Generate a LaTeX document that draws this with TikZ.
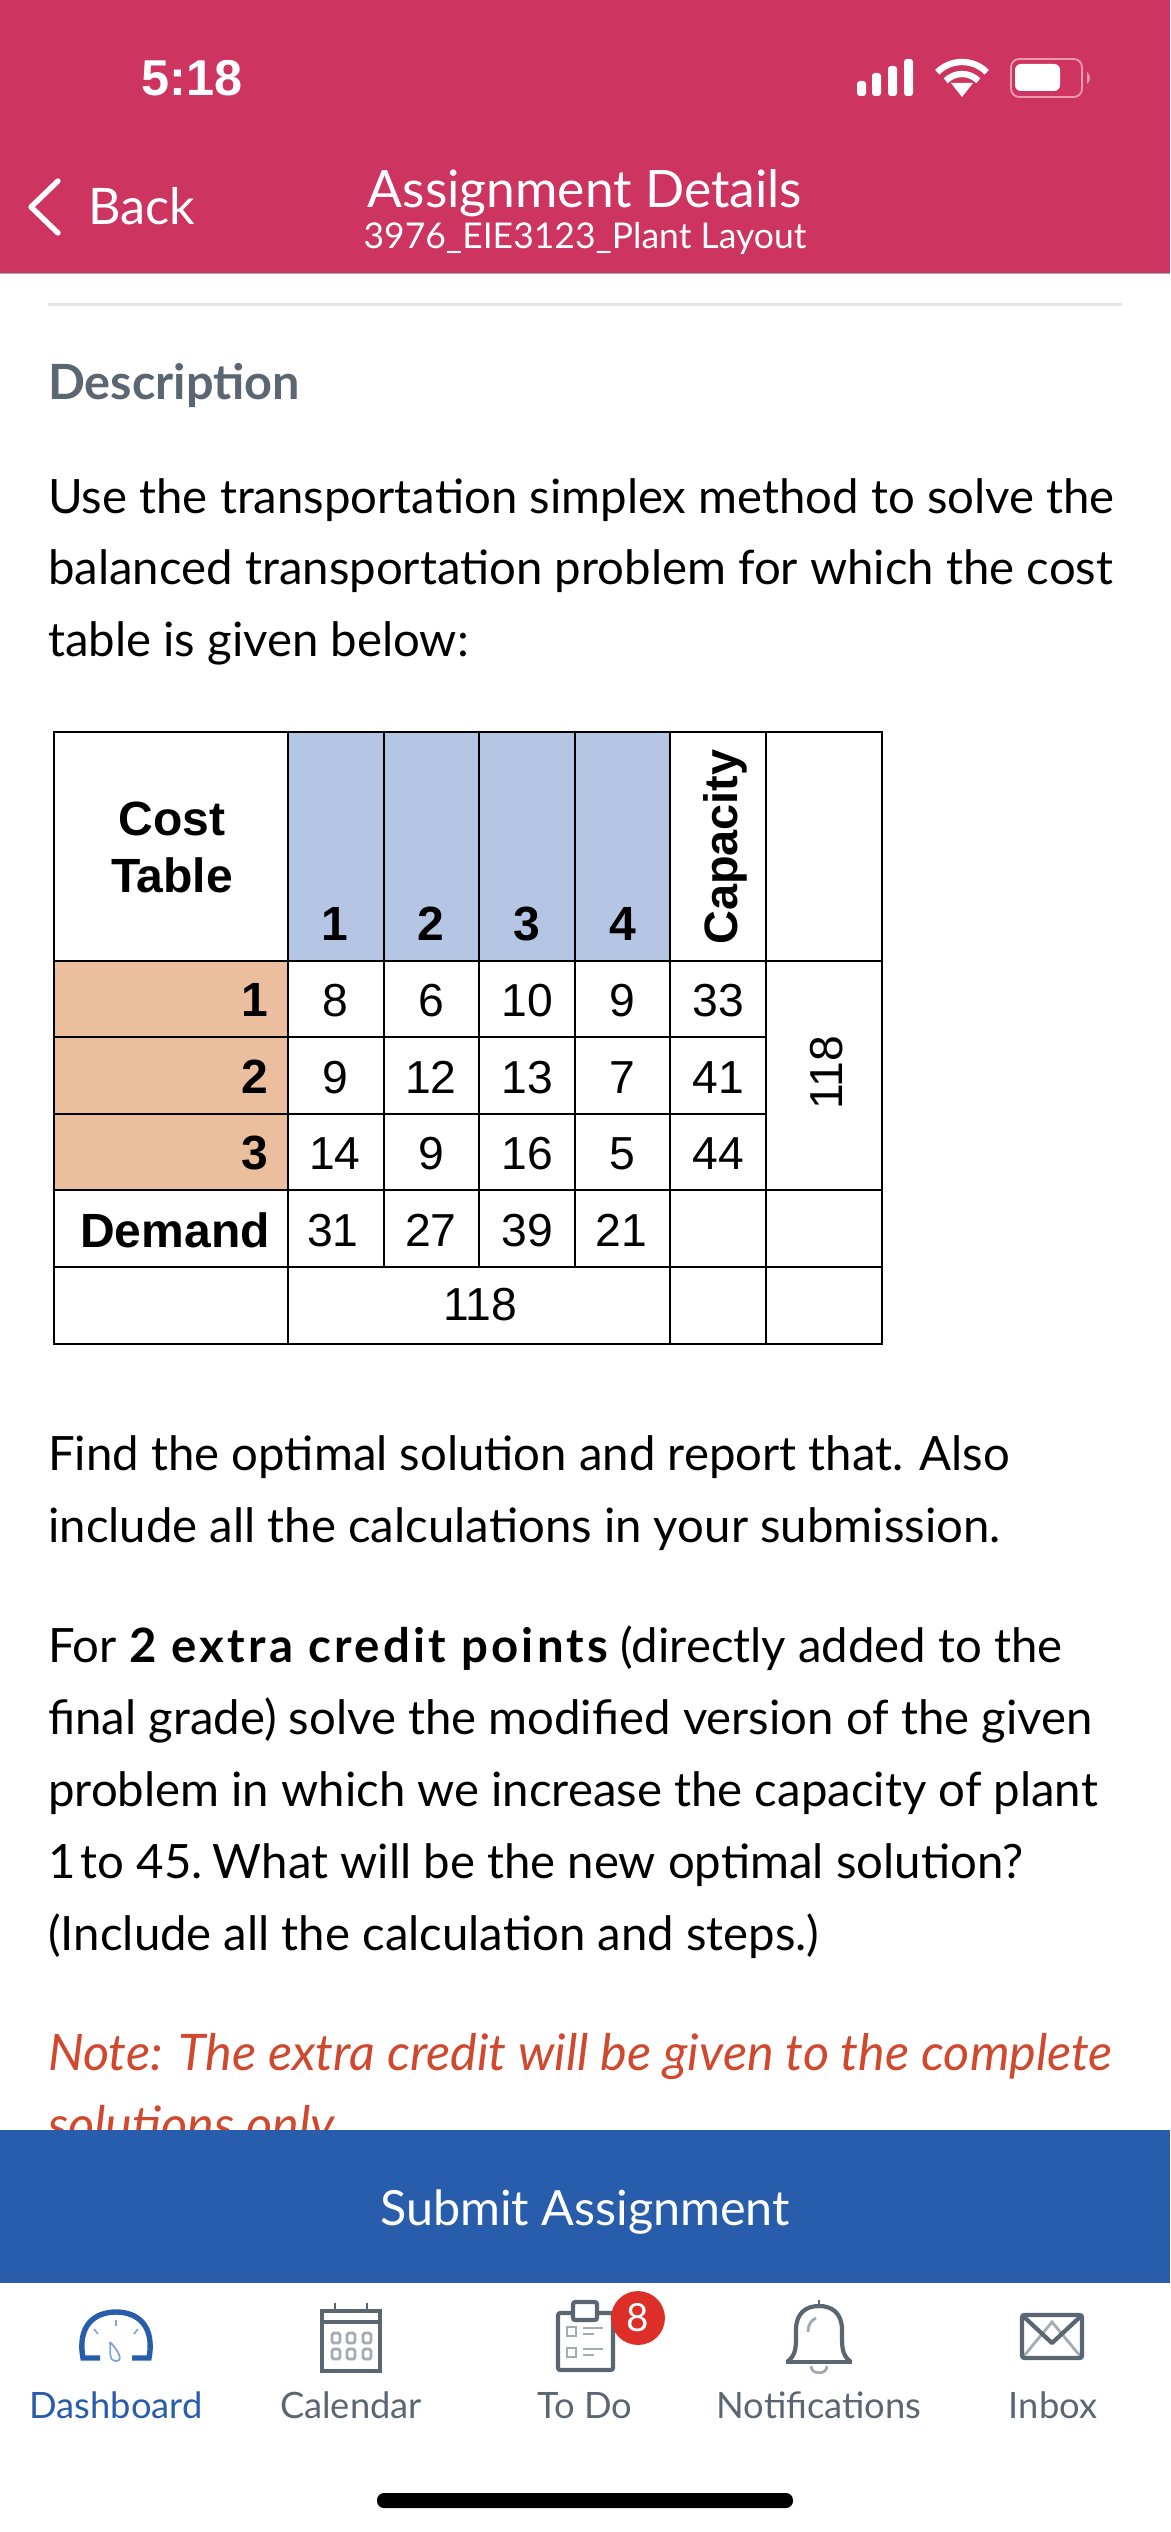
\documentclass[tikz,border=0pt]{standalone}
\usepackage{fontspec}
\setmainfont{Lato}
\newfontfamily\arialfont{Liberation Sans}
\definecolor{headerred}{HTML}{CE3460}
\definecolor{slategrey}{HTML}{5A6672}
\definecolor{lightgrey}{HTML}{A4ABB2}
\definecolor{notered}{HTML}{D0492F}
\definecolor{submitblue}{HTML}{285DAB}
\definecolor{paleblue}{HTML}{7FA6D8}
\definecolor{colblue}{HTML}{B4C6E4}
\definecolor{roworange}{HTML}{EBBF9E}
\definecolor{badgered}{HTML}{DE2E28}
\tikzset{
  bodytext/.style={anchor=base west, inner sep=0pt, text=black, font=\fontsize{40.4}{46}\selectfont},
  notetext/.style={anchor=base west, inner sep=0pt, text=notered, font=\itshape\fontsize{43}{48}\selectfont},
  tabtext/.style={anchor=base, inner sep=0pt, text=slategrey, font=\fontsize{31}{36}\selectfont},
  cell/.style={anchor=base, inner sep=0pt, font=\arialfont\fontsize{39.5}{44}\selectfont},
  boldcell/.style={anchor=base, inner sep=0pt, font=\arialfont\bfseries\fontsize{41}{46}\selectfont},
  gridline/.style={line width=2.3pt, black},
  iconline/.style={line width=3.6pt, slategrey},
  iconthin/.style={line width=2.4pt, lightgrey}
}
\begin{document}
\begin{tikzpicture}[x=0.03cm, y=-0.03cm]
      \useasboundingbox (0,0) rectangle (1170,2532);
      \fill[white] (0,0) rectangle (1170,2532);
      % header
      \fill[headerred] (0,0) rectangle (1170,273);
      \draw[line width=1pt, lightgrey] (0,273.5) -- (1170,273.5);
      \node[anchor=base west, inner sep=0pt, text=white, font=\arialfont\bfseries\fontsize{43}{48}\selectfont] (clock) at (141,96) {5:18};
      %
      \fill[white, rounded corners=2.5pt] (857,81) rectangle (866,96);
      \fill[white, rounded corners=2.5pt] (872,73) rectangle (881,96);
      \fill[white, rounded corners=2.5pt] (888,66) rectangle (897,96);
      \fill[white, rounded corners=2.5pt] (904,59) rectangle (913,96);
      %
      \fill[white] (962,97) -- (951,83) -- (973,83) -- cycle;
      \draw[white, line width=5.4pt] (962,97) ++(-135:23) arc[start angle=-135, end angle=-45, radius=23];
      \draw[white, line width=5.4pt] (962,97) ++(-135:35) arc[start angle=-135, end angle=-45, radius=35];
      %
      \draw[white!50!headerred, line width=1.6pt, rounded corners=7pt] (1011,59) rectangle (1082,97);
      \fill[white, rounded corners=5pt] (1015,64) rectangle (1060,91);
      \fill[white!50!headerred] (1087,72) .. controls (1091,74) and (1091,82) .. (1087,84) -- cycle;
      %
      \draw[white, line width=4.6pt, line cap=round, line join=round] (58,181) -- (31,207) -- (58,233);
      \node[anchor=base west, inner sep=0pt, text=white, font=\fontsize{43}{48}\selectfont] (backlabel) at (88,225) {Back};
      \node[anchor=base, inner sep=0pt, text=white, font=\fontsize{44}{50}\selectfont] (title) at (585,208) {Assignment Details};
      \node[anchor=base, inner sep=0pt, text=white, font=\fontsize{30.3}{36}\selectfont] (subtitle) at (585,249) {3976\_EIE3123\_Plant Layout};
      %
      \draw[line width=2.2pt, black!10] (48,304.5) -- (1122,304.5);
      \node[anchor=base west, inner sep=0pt, text=slategrey, font=\bfseries\fontsize{41.5}{46}\selectfont] (description) at (48,400) {Description};
      % text above the table
      \node[bodytext] (lineA) at (48,513) {Use the transportation simplex method to solve the};
      \node[bodytext] (lineB) at (48,584) {balanced transportation problem for which the cost};
      \node[bodytext] (lineC) at (48,656) {table is given below:};
      % table fills
      \fill[colblue] (288,732) rectangle (670,961);
      \fill[roworange] (54,961) rectangle (288,1190);
      % table lines
      \draw[gridline] (54,732) rectangle (882,1344);
      \draw[gridline] (54,961) -- (882,961);
      \draw[gridline] (54,1037) -- (766,1037);
      \draw[gridline] (54,1114) -- (766,1114);
      \draw[gridline] (54,1190) -- (882,1190);
      \draw[gridline] (54,1267) -- (882,1267);
      \draw[gridline] (288,732) -- (288,1344);
      \draw[gridline] (384,732) -- (384,1267);
      \draw[gridline] (479,732) -- (479,1267);
      \draw[gridline] (575,732) -- (575,1267);
      \draw[gridline] (670,732) -- (670,1344);
      \draw[gridline] (766,732) -- (766,1344);
      % table texts
      \node[boldcell] (costlabel) at (172,835) {Cost};
      \node[boldcell] (tablelabel) at (172,892) {Table};
      \node[boldcell] (colA) at (335,940) {1};
      \node[boldcell] (colB) at (431,940) {2};
      \node[boldcell] (colC) at (527,940) {3};
      \node[boldcell] (colD) at (623,940) {4};
      \node[boldcell, anchor=base west, rotate=90, font=\arialfont\bfseries\fontsize{40}{46}\selectfont] (capacity) at (737,945) {Capacity};
      %
      \node[boldcell, anchor=base east] (rowA) at (268,1016) {1};
      \node[boldcell, anchor=base east] (rowB) at (268,1093) {2};
      \node[boldcell, anchor=base east] (rowC) at (268,1169) {3};
      \node[boldcell, anchor=base east] (demand) at (270,1247) {Demand};
      %
      \node[cell] (cAA) at (335,1016) {8};
      \node[cell] (cAB) at (431,1016) {6};
      \node[cell] (cAC) at (527,1016) {10};
      \node[cell] (cAD) at (622,1016) {9};
      \node[cell] (capA) at (718,1016) {33};
      %
      \node[cell] (cBA) at (335,1093) {9};
      \node[cell] (cBB) at (431,1093) {12};
      \node[cell] (cBC) at (527,1093) {13};
      \node[cell] (cBD) at (622,1093) {7};
      \node[cell] (capB) at (718,1093) {41};
      %
      \node[cell] (cCA) at (335,1169) {14};
      \node[cell] (cCB) at (431,1169) {9};
      \node[cell] (cCC) at (527,1169) {16};
      \node[cell] (cCD) at (622,1169) {5};
      \node[cell] (capC) at (718,1169) {44};
      %
      \node[cell] (demA) at (333,1246) {31};
      \node[cell] (demB) at (431,1246) {27};
      \node[cell] (demC) at (527,1246) {39};
      \node[cell] (demD) at (621,1246) {21};
      \node[cell] (demtotal) at (480,1320) {118};
      \node[cell, rotate=90] (captotal) at (842,1073) {118};
      % text below the table
      \node[bodytext] (lineD) at (48,1470) {Find the optimal solution and report that. Also};
      \node[bodytext] (lineE) at (48,1542) {include all the calculations in your submission.};
      %
      \node[bodytext] (lineF) at (48,1662) {For {\bfseries\addfontfeature{LetterSpace=7}2 extra credit points} (directly added to the};
      \node[bodytext] (lineG) at (48,1734) {final grade) solve the modified version of the given};
      \node[bodytext] (lineH) at (48,1806) {problem in which we increase the capacity of plant};
      \node[bodytext] (lineI) at (48,1878) {1\kern-6pt{} to 45.\kern-5pt{} What will be the new optimal solution?};
      \node[bodytext] (lineJ) at (48,1950) {(Include all the calculation and steps.)};
      %
      \node[notetext] (noteA) at (48,2070) {Note: The extra credit will be given to the complete};
      \node[notetext] (noteB) at (48,2142) {solutions only.};
      % submit bar
      \fill[submitblue] (0,2130) rectangle (1170,2283);
      \fill[white] (0,2283) rectangle (1170,2532);
      \node[anchor=base, inner sep=0pt, text=white, font=\fontsize{41.4}{46}\selectfont] (submit) at (585,2225) {Submit Assignment};
      % dashboard icon
      \draw[submitblue, line width=4.6pt] (100,2358) -- (83,2358) .. controls (77,2325) and (95,2312) .. (116,2312) .. controls (137,2312) and (155,2325) .. (149,2358) -- (132,2358);
      \draw[paleblue, line width=1.5pt] (110,2342) .. controls (111,2350) and (108,2361) .. (116,2361) .. controls (124,2361) and (118,2350) .. (110,2342);
      \draw[paleblue, line width=1.4pt] (116,2320) -- (116,2326);
      \draw[paleblue, line width=1.4pt] (94,2329) -- (98,2334);
      \draw[paleblue, line width=1.4pt] (138,2329) -- (134,2334);
      % calendar icon
      \draw[iconline] (322,2371) -- (322,2311) -- (380,2311) -- (380,2371) -- cycle;
      \draw[iconline] (322,2322) -- (380,2322);
      \draw[iconline, line width=2.2pt] (335,2303) -- (335,2311);
      \draw[iconline, line width=2.2pt] (367,2303) -- (367,2311);
      \draw[iconthin, rounded corners=1.5pt] (332,2333) rectangle (340,2343);
      \draw[iconthin, rounded corners=1.5pt] (347,2333) rectangle (355,2343);
      \draw[iconthin, rounded corners=1.5pt] (363,2333) rectangle (371,2343);
      \draw[iconthin, rounded corners=1.5pt] (332,2349) rectangle (340,2359);
      \draw[iconthin, rounded corners=1.5pt] (347,2349) rectangle (355,2359);
      \draw[iconthin, rounded corners=1.5pt] (363,2349) rectangle (371,2359);
      % to do icon
      \draw[iconline, rounded corners=2pt] (558,2370) -- (558,2313) -- (613,2313) -- (613,2370) -- cycle;
      \draw[iconline, fill=white, rounded corners=2pt] (573,2302) rectangle (597,2320);
      \draw[iconthin] (567,2327) rectangle (576,2336);
      \draw[iconthin] (567,2348) rectangle (576,2357);
      \draw[iconthin] (583,2328) -- (603,2328);
      \draw[iconthin] (583,2334) -- (594,2334);
      \draw[iconthin] (583,2349) -- (603,2349);
      \draw[iconthin] (583,2355) -- (594,2355);
      \node[circle, fill=badgered, text=white, inner sep=0pt, minimum size=46pt, font=\fontsize{33}{36}\selectfont] (badge) at (638,2318) {8};
      % bell icon
      \draw[iconline] (787,2362) .. controls (797,2355) and (796,2345) .. (796,2330) .. controls (796,2313) and (806,2306) .. (819,2306) .. controls (832,2306) and (842,2313) .. (842,2330) .. controls (842,2345) and (841,2355) .. (851,2362);
      \draw[iconline, line width=4pt] (786,2362) -- (852,2362);
      \draw[iconline, line width=1.5pt] (819,2300) -- (819,2306);
      \draw[iconthin] (811,2366) .. controls (811,2375) and (827,2375) .. (827,2366);
      \draw[iconthin] (808,2332) .. controls (808,2325) and (811,2320) .. (816,2318);
      % inbox icon
      \draw[iconthin] (1023,2357) -- (1052,2322) -- (1081,2357);
      \draw[iconline, rounded corners=2pt] (1022,2315) rectangle (1082,2358);
      \draw[iconline, line join=round] (1023,2316) -- (1052,2343) -- (1081,2316);
      % tab labels
      \node[tabtext, text=submitblue] (tabA) at (116,2418) {Dashboard};
      \node[tabtext] (tabB) at (351,2418) {Calendar};
      \node[tabtext] (tabC) at (585,2418) {To Do};
      \node[tabtext] (tabD) at (819,2418) {Notifications};
      \node[tabtext] (tabE) at (1053,2418) {Inbox};
      %
      \fill[black, rounded corners=6pt] (377,2493) rectangle (793,2508);
      %
    \end{tikzpicture}
\end{document}
